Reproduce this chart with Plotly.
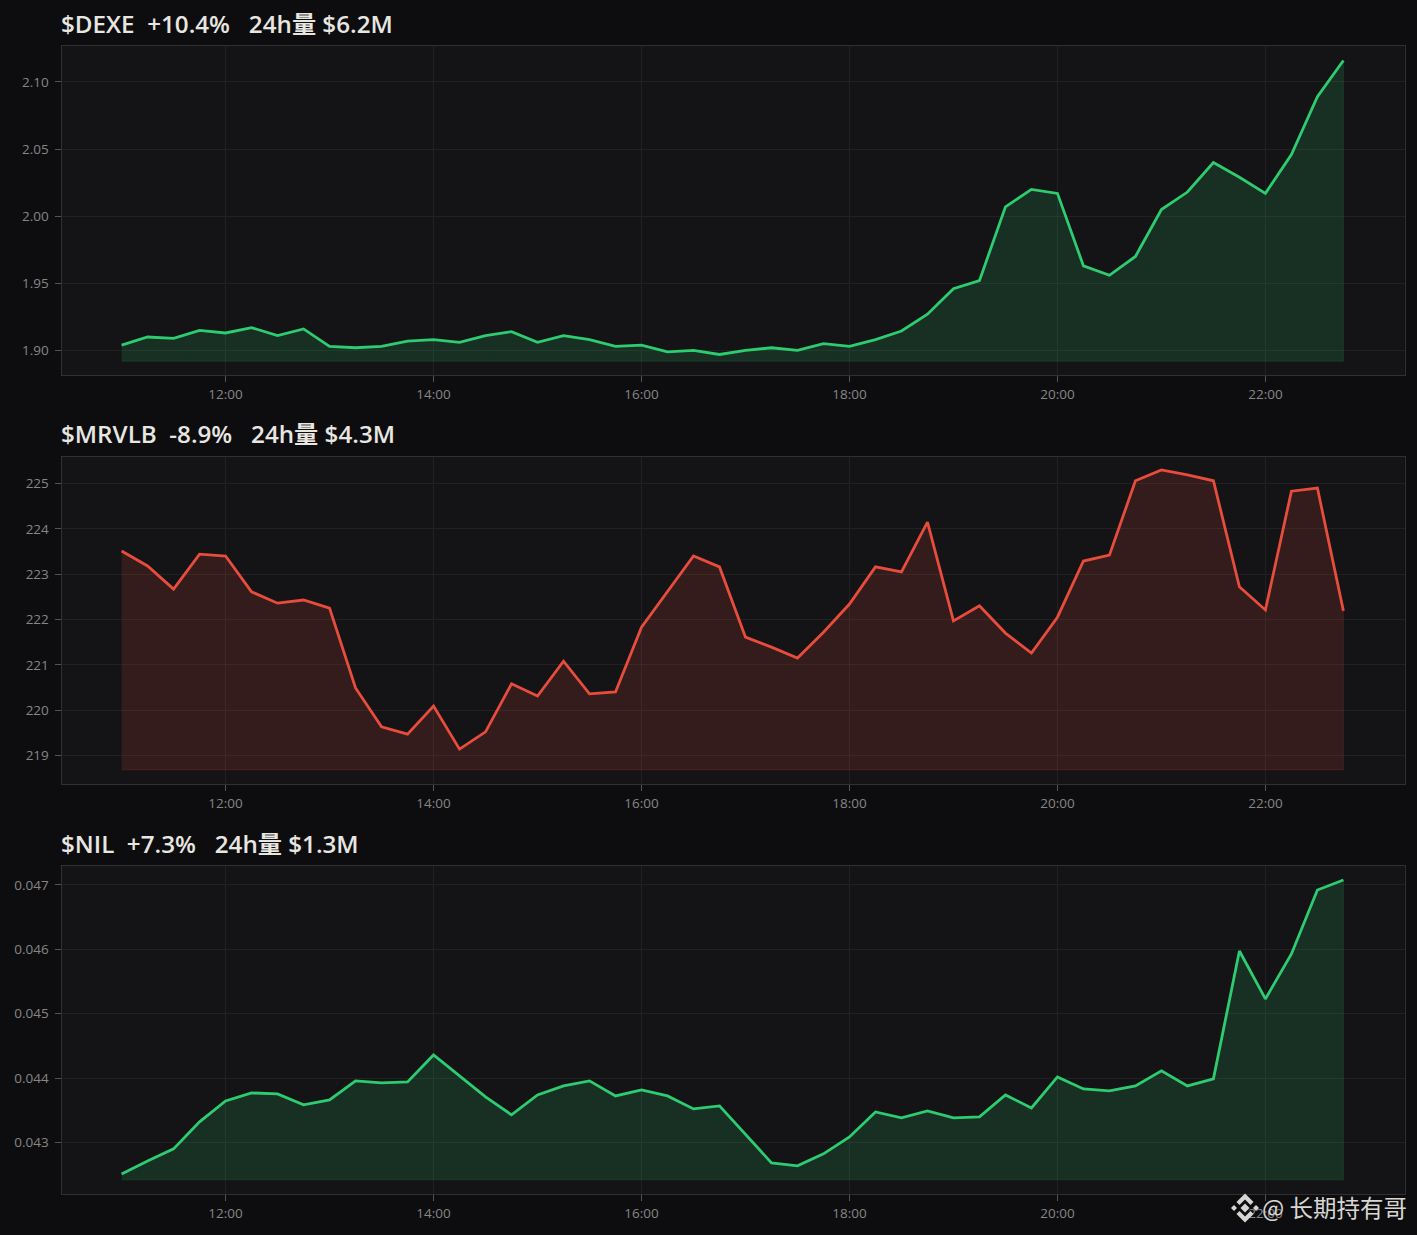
import pandas as pd
import plotly.graph_objects as go

W, H = 1417, 1235
times = pd.date_range("2025-01-01 11:00", "2025-01-01 22:45", freq="15min")

dexe = [1.904,1.910,1.909,1.915,1.913,1.917,1.911,1.916,1.903,1.902,1.903,1.907,1.908,1.906,1.911,1.914,1.906,1.911,1.908,1.903,1.904,1.899,1.900,1.897,1.900,1.902,1.900,1.905,1.903,1.908,1.9145,1.927,1.946,1.952,2.007,2.020,2.017,1.963,1.956,1.970,2.005,2.018,2.040,2.029,2.017,2.046,2.089,2.116]
mrvlb = [223.51,223.18,222.67,223.44,223.40,222.61,222.36,222.43,222.25,220.49,219.63,219.47,220.09,219.14,219.52,220.58,220.31,221.08,220.36,220.40,221.83,222.61,223.40,223.16,221.61,221.39,221.15,221.72,222.34,223.16,223.05,224.15,221.97,222.30,221.70,221.26,222.05,223.29,223.42,225.06,225.30,225.19,225.06,222.72,222.21,224.83,224.90,222.19]
nil = [.042512,.042714,.042901,.043320,.043646,.043770,.043755,.043584,.043661,.043957,.043925,.043941,.044360,.044034,.043708,.043429,.043739,.043879,.043957,.043724,.043817,.043724,.043522,.043568,.043118,.042683,.042637,.042823,.043087,.043475,.043382,.043491,.043382,.043398,.043739,.043537,.044019,.043832,.043801,.043879,.044112,.043879,.043988,.045975,.045230,.045929,.046922,.047078]

NB = "\u00a0"
titles = [f"$DEXE{NB}{NB}+10.4%{NB}{NB}{NB}24h量 $6.2M", f"$MRVLB{NB}{NB}-8.9%{NB}{NB}{NB}24h量 $4.3M", f"$NIL{NB}{NB}+7.3%{NB}{NB}{NB}24h量 $1.3M"]
series = [dexe, mrvlb, nil]
baselines = [1.892, 218.68, 0.04242]
yranges = [(1.8817, 2.1268), (218.37, 225.585), (0.0422, 0.047295)]
yticks = [[1.90,1.95,2.00,2.05,2.10], [219,220,221,222,223,224,225], [0.043,0.044,0.045,0.046,0.047]]
yfmts = [".2f", "d", ".3f"]
colors = ["#2ecc71", "#e74c3c", "#2ecc71"]
fills = ["rgba(46,204,113,0.15)", "rgba(231,76,60,0.15)", "rgba(46,204,113,0.15)"]
edges = ["rgba(46,204,113,0.14)", "rgba(231,76,60,0.16)", "rgba(46,204,113,0.14)"]

panels_px = [(46, 375), (457, 784), (866, 1194)]
title_mid_px = [24, 433, 843]
LEFT, RIGHT = 61.5, 1404.5
xrange_ = ["2025-01-01 10:25:20", "2025-01-01 23:20:15"]
xticks = pd.date_range("2025-01-01 12:00", "2025-01-01 22:00", freq="2h")

BG, PLOT, GRID, SPINE, TICK = "#0d0d0f", "#141416", "#212124", "#303033", "#868686"
TFONT = "Open Sans, Noto Sans CJK SC"
WFONT = "Noto Sans CJK SC"

fig = go.Figure()
layout = dict(
    width=W, height=H, margin=dict(l=0, r=0, t=0, b=0), paper_bgcolor=BG, plot_bgcolor=PLOT,
    showlegend=False, annotations=[], shapes=[],
)
for i, (vals, base) in enumerate(zip(series, baselines)):
    n = "" if i == 0 else str(i + 1)
    xa, ya = f"x{n}", f"y{n}"
    xs = list(times)
    fig.add_trace(go.Scatter(x=xs + xs[::-1], y=vals + [base] * len(xs), mode="lines", fill="toself",
                             fillcolor=fills[i], line=dict(color=edges[i], width=1),
                             hoverinfo="skip", xaxis=xa, yaxis=ya))
    fig.add_trace(go.Scatter(x=xs, y=vals, mode="lines", line=dict(color=colors[i], width=2.8),
                             xaxis=xa, yaxis=ya))
    top, bottom = panels_px[i]
    layout[f"xaxis{n}"] = dict(
        type="date", domain=[LEFT / W, RIGHT / W], range=xrange_, anchor=ya,
        tickvals=list(xticks), tickformat="%H:%M", showgrid=True, gridcolor=GRID, gridwidth=1,
        ticks="outside", ticklen=6, tickcolor="#555558", tickwidth=1, ticklabelstandoff=1,
        tickfont=dict(color=TICK, size=13.5, family="Open Sans"),
        showline=True, linecolor=SPINE, linewidth=1, mirror=True, zeroline=False,
    )
    layout[f"yaxis{n}"] = dict(
        domain=[1 - bottom / H, 1 - top / H], range=list(yranges[i]), anchor=xa,
        tickvals=yticks[i], tickformat=yfmts[i], showgrid=True, gridcolor=GRID, gridwidth=1,
        ticks="outside", ticklen=6, tickcolor="#555558", tickwidth=1, ticklabelstandoff=3,
        tickfont=dict(color=TICK, size=13.5, family="Open Sans"),
        showline=True, linecolor=SPINE, linewidth=1, mirror=True, zeroline=False,
    )
    layout["annotations"].append(dict(
        text=titles[i], xref="paper", yref="paper", x=58.5 / W, y=1 - title_mid_px[i] / H,
        xanchor="left", yanchor="middle", showarrow=False, align="left",
        font=dict(family=TFONT, size=24.2, color="#e8e6e1", weight=600),
    ))

# watermark text
layout["annotations"].append(dict(
    text="@ 长期持有哥", xref="paper", yref="paper", x=1409 / W, y=1 - 1207 / H,
    xanchor="right", yanchor="middle", showarrow=False,
    font=dict(family=WFONT, size=23.5, color="#d8d6d2"),
))

# watermark logo
def px(x, y):
    return f"{x / W:.5f},{1 - y / H:.5f}"

def poly(points):
    return "M" + " L".join(px(a, b) for a, b in points) + " Z"

cx, cy = 1245, 1208
logo = [
    [(cx, cy - 4.5), (cx + 4.5, cy), (cx, cy + 4.5), (cx - 4.5, cy)],
    [(cx - 14, cy), (cx - 11, cy - 3), (cx - 8, cy), (cx - 11, cy + 3)],
    [(cx + 14, cy), (cx + 11, cy - 3), (cx + 8, cy), (cx + 11, cy + 3)],
    [(cx, cy - 14.5), (cx + 8.5, cy - 6), (cx + 5.5, cy - 3), (cx, cy - 8.5), (cx - 5.5, cy - 3), (cx - 8.5, cy - 6)],
    [(cx, cy + 14.5), (cx + 8.5, cy + 6), (cx + 5.5, cy + 3), (cx, cy + 8.5), (cx - 5.5, cy + 3), (cx - 8.5, cy + 6)],
]
for p in logo:
    layout["shapes"].append(dict(type="path", xref="paper", yref="paper", path=poly(p),
                                 fillcolor="#d8d6d2", line=dict(width=0), layer="above"))

fig.update_layout(**layout)
fig.write_html("out.html", config={"displayModeBar": False},
               post_script="document.body.style.margin='0';document.body.style.background='#0d0d0f';")
